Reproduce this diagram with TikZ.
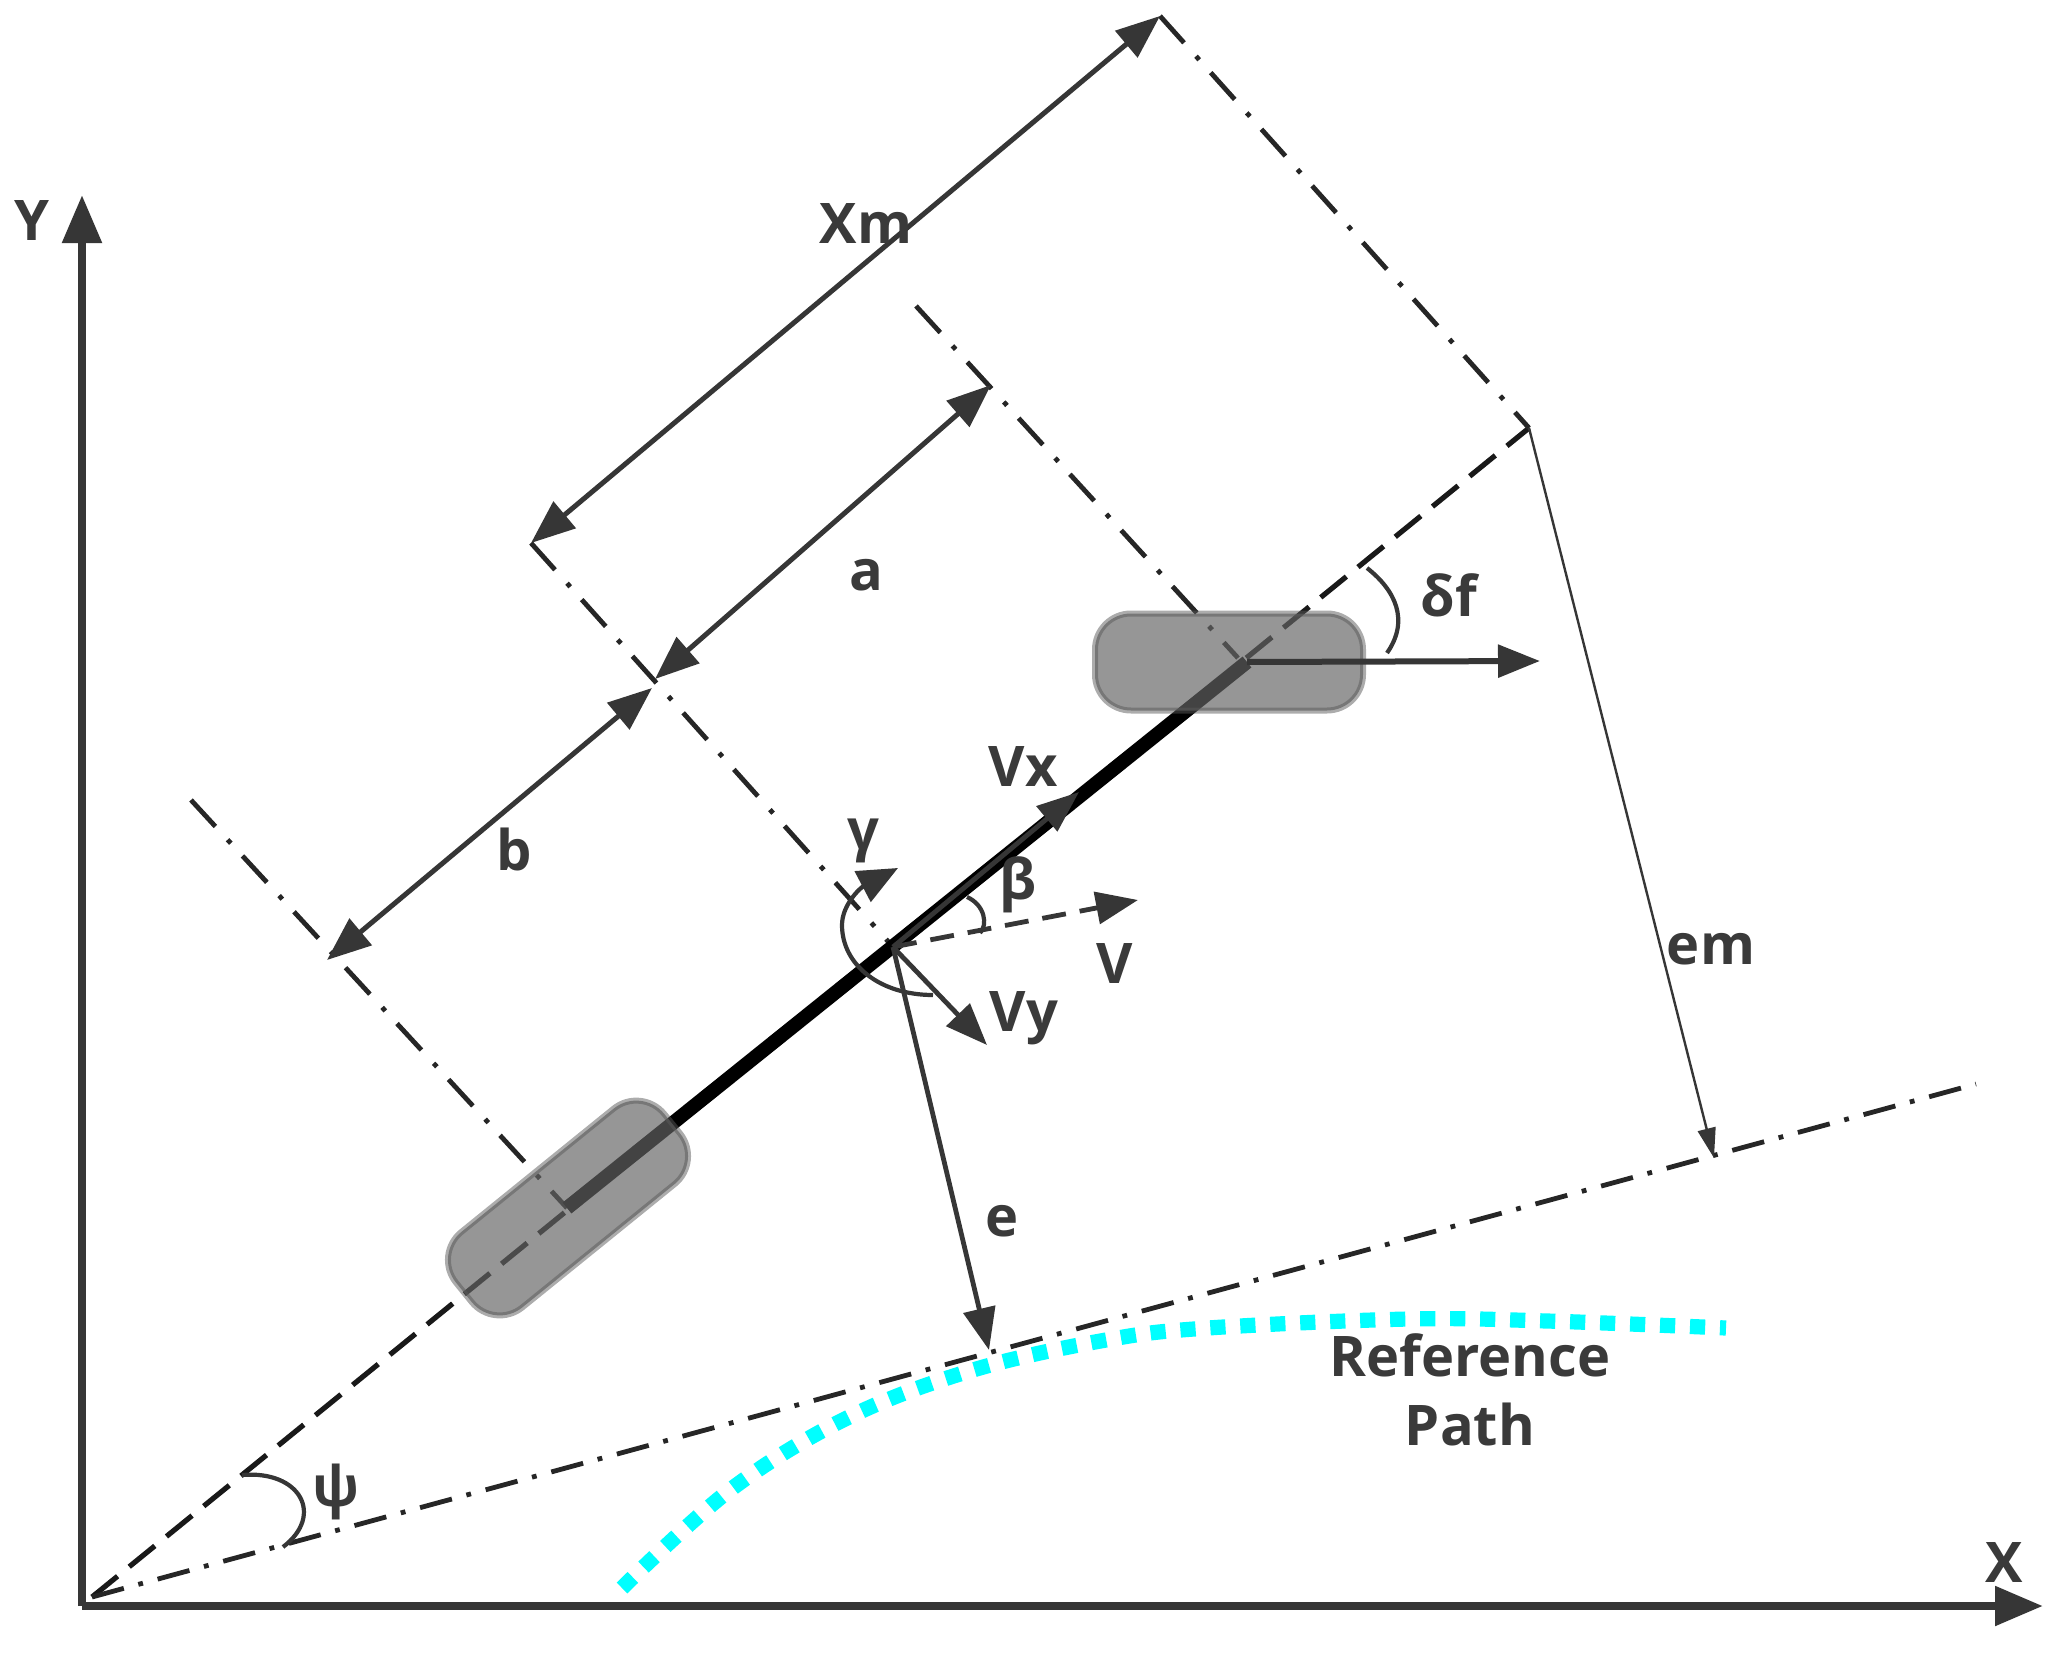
\documentclass[tikz,border=0pt]{standalone}
\usepackage{fontspec}
\setmainfont{Open Sans}
\usetikzlibrary{arrows.meta}
\definecolor{ink}{HTML}{363636}
\definecolor{lbl}{HTML}{3A3A3A}
\definecolor{pathcyan}{HTML}{00FFFF}
\definecolor{wheelfill}{HTML}{646464}
\tikzset{
  x=0.5pt,y=-0.5pt,
  axis/.style={draw=ink,line width=4.2pt,-{Triangle[length=24pt,width=19pt]}},
  longdash/.style={draw=black!90,line width=2.6pt,dash pattern=on 16.5pt off 7.5pt},
  dashdot/.style={draw=black!85,line width=2.4pt,dash pattern=on 18pt off 9pt on 2.4pt off 8.6pt},
  basedash/.style={draw=black!85,line width=2.4pt,dash pattern=on 16.5pt off 7.5pt on 2.4pt off 7.6pt},
  dim/.style={draw=ink,line width=2.5pt,{Triangle[length=22pt,width=17pt]}-{Triangle[length=22pt,width=17pt]}},
  vec/.style={draw=ink,line width=2.4pt,-{Triangle[length=21pt,width=16pt]}},
  anglearc/.style={draw=ink,line width=2.1pt},
  wheelbox/.style={rectangle,rounded corners=18pt,minimum width=134pt,minimum height=48.5pt,inner sep=0pt,outer sep=0pt,
    fill=wheelfill,fill opacity=.675,draw=black!65,draw opacity=.5,line width=3pt},
  lab/.style={text=lbl,font=\fontsize{28}{33}\selectfont\bfseries,inner sep=0pt,align=center},
}
\begin{document}
\begin{tikzpicture}
\useasboundingbox (0,0) rectangle (2067,1659);
\coordinate (O) at (82,1606);
\coordinate (Ytip) at (82,195);
\coordinate (Xtip) at (2043,1606);
\coordinate (S) at (92,1597);
\coordinate (C) at (893,947);
\coordinate (F) at (1247,662);
\coordinate (R) at (567,1208);
\coordinate (M) at (1529,428);
\coordinate (Base) at (1976,1084);
\coordinate (XmT) at (1160,16);
\coordinate (XmB) at (531,543);
\coordinate (aT) at (916,306);
\coordinate (aEnd) at (1238,658);
\coordinate (bT) at (191,800);
\coordinate (aTip) at (991,385);
\coordinate (aBase) at (655,679);
\coordinate (bTip) at (652,688);
\coordinate (bBase) at (327,960);
\coordinate (eFoot) at (989,1350);
\coordinate (emFoot) at (1714,1158);
\coordinate (VxTip) at (1079,792);
\coordinate (VyTip) at (987,1045);
\coordinate (VTip) at (1138,900);
\coordinate (dfTip) at (1540,661);
% axes
\draw[axis] (O) -- (Ytip);
\draw[axis] (O) -- (Xtip);
% construction lines
\draw[longdash] (S) -- (M);
\draw[basedash] (S) -- (Base);
\draw[dashdot] (XmT) -- (M);
\draw[dashdot] (aT) -- (aEnd);
\draw[dashdot] (XmB) -- (C);
\draw[dashdot] (bT) -- (R);
% reference path
\draw[pathcyan,line width=7.6pt,dash pattern=on 7.6pt off 7.4pt,smooth,tension=0.6]
  plot coordinates {(622,1588) (730,1490) (847,1418) (973,1370) (1106,1340) (1208,1328) (1409,1319) (1547,1321) (1726,1328)};
% chassis
\draw[black,line width=7pt] (R) -- (F);
% wheels
\node[wheelbox] (fw) at (1229,662) {};
\node[wheelbox,rotate=39] (rw) at (568,1208) {};
% dimensions
\draw[dim] (XmB) -- (XmT);
\draw[dim] (aBase) -- (aTip);
\draw[dim] (bBase) -- (bTip);
% vectors
\draw[vec] (C) -- (VxTip);
\draw[vec] (C) -- (VyTip);
\draw[vec,dash pattern=on 12pt off 7pt] (C) -- (VTip);
\draw[vec,line width=3pt] (F) -- (dfTip);
\draw[vec] (C) -- (eFoot);
\draw[draw=ink,line width=1.2pt,-{Triangle[length=15pt,width=9pt]}] (M) -- (emFoot);
% angle arcs
\draw[anglearc] (242,1475) .. controls (300,1470) and (325,1515) .. (283,1547);
\draw[anglearc] (1367,568) .. controls (1395,590) and (1410,620) .. (1387,653);
\draw[anglearc] (967,897) .. controls (985,905) and (988,925) .. (980,933);
\draw[anglearc,-{Triangle[length=20pt,width=17pt]}] (933,995) .. controls (880,995) and (842,965) .. (842,925) .. controls (842,905) and (860,888) .. (898,868);
% labels
\node[lab] (lY) at (32,221) {Y};
\node[lab] (lX) at (2004,1562) {X};
\node[lab] (lXm) at (866,224) {Xm};
\node[lab] (la) at (866,575) {a};
\node[lab] (lb) at (514,849) {b};
\node[lab] (lVx) at (1023,767) {Vx};
\node[lab] (lgamma) at (863,841) {γ};
\node[lab] (lbeta) at (1018,885) {β};
\node[lab] (lV) at (1115,964) {V};
\node[lab] (lVy) at (1024,1018) {Vy};
\node[lab] (ldf) at (1449,595) {δf};
\node[lab] (lem) at (1711,949) {em};
\node[lab] (le) at (1002,1221) {e};
\node[lab] (lpsi) at (336,1492) {ψ};
\node[lab] (lref) at (1470,1355) {Reference};
\node[lab] (lpath) at (1470,1424) {Path};
\end{tikzpicture}
\end{document}
